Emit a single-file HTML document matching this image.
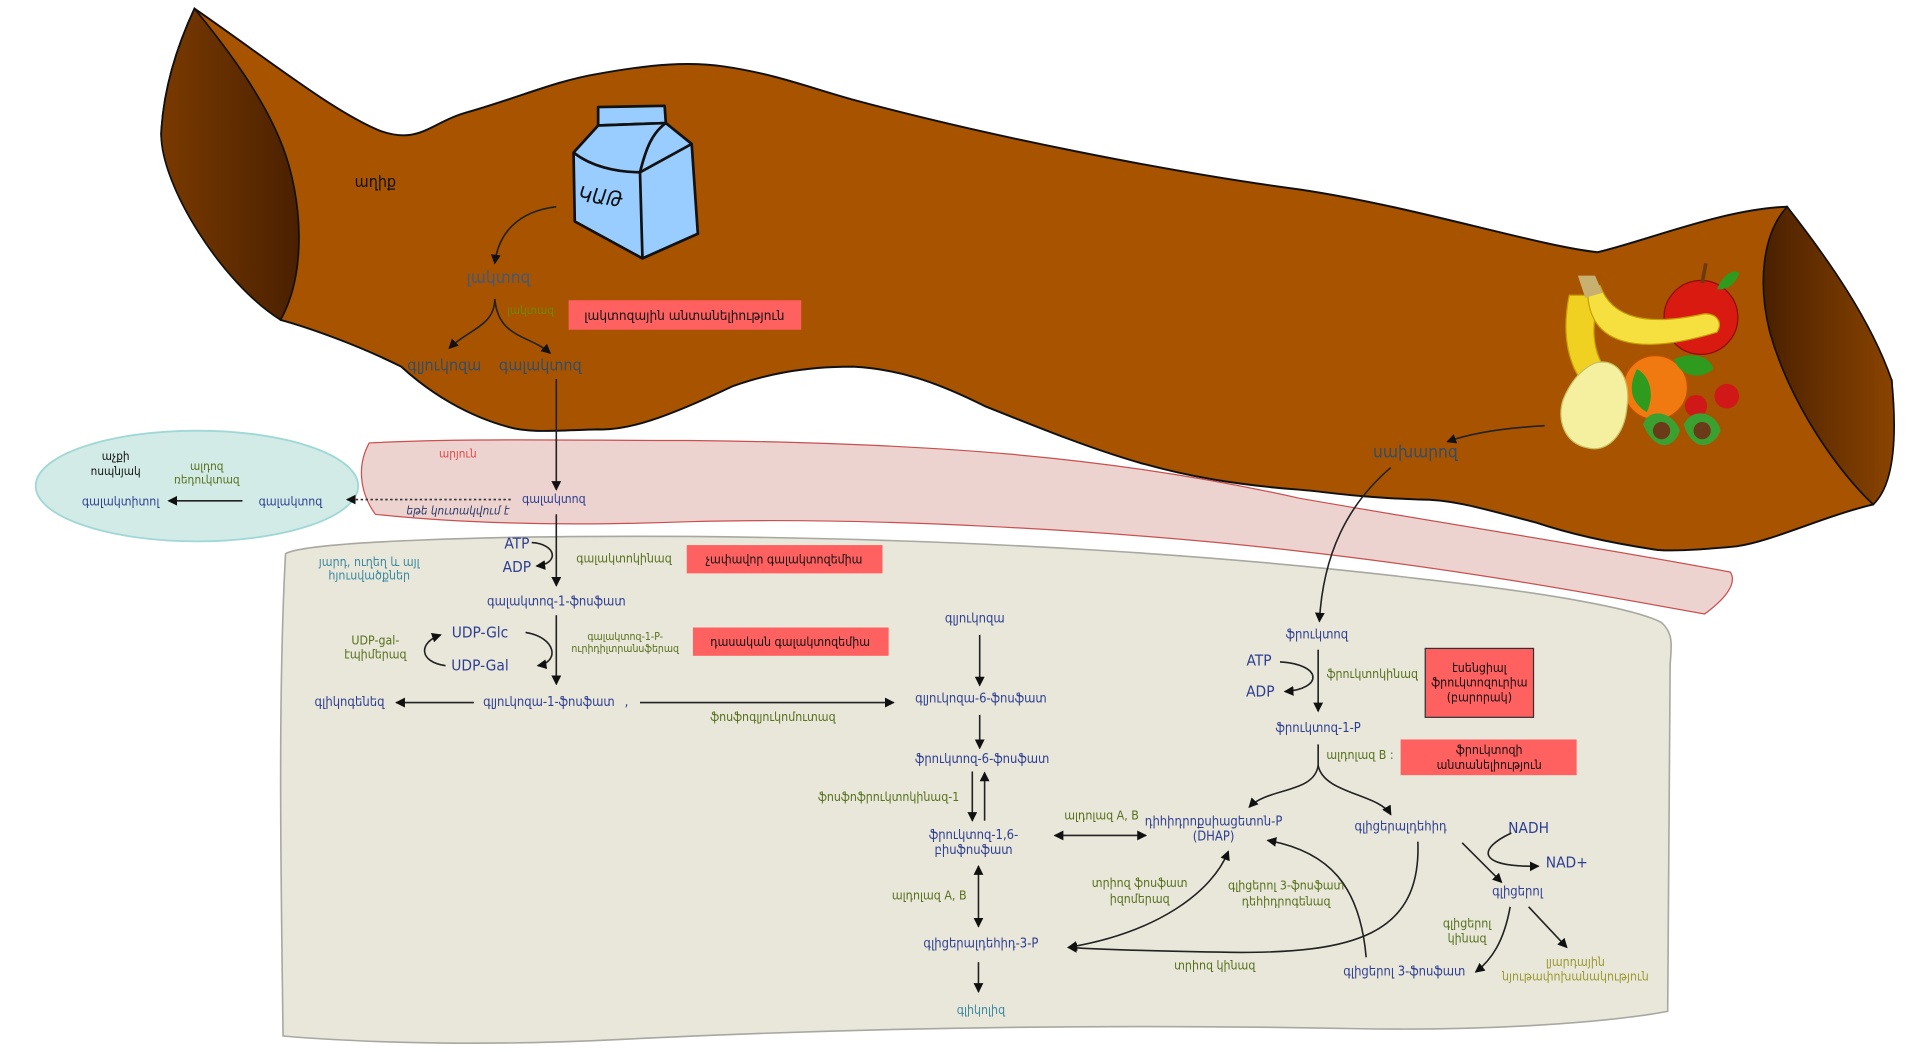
<!DOCTYPE html>
<html><head><meta charset="utf-8"><style>
html,body{margin:0;padding:0;background:#fff;}
svg{display:block;}
text{font-family:"DejaVu Sans Condensed","DejaVu Sans","Liberation Sans",sans-serif;}
.b{fill:#2e3f92;font-size:10.5px;}
.g{fill:#56701c;font-size:10px;}
.t{fill:#3a8aa0;font-size:10px;}
.k{fill:#111;font-size:10px;}
.bb{fill:#2e3f92;font-size:12.5px;}
.ln{stroke:#222;stroke-width:1.3;fill:none;}
</style></head><body>
<svg width="1920" height="1052" viewBox="0 0 1560 855" preserveAspectRatio="none" xmlns="http://www.w3.org/2000/svg">
<defs>
<marker id="a" markerWidth="8" markerHeight="8" refX="7" refY="4" orient="auto" markerUnits="userSpaceOnUse"><path d="M0,0 L8,4 L0,8 z" fill="#111"/></marker>
<marker id="as" markerWidth="8" markerHeight="8" refX="1" refY="4" orient="auto" markerUnits="userSpaceOnUse"><path d="M8,0 L0,4 L8,8 z" fill="#111"/></marker>
<linearGradient id="dl" x1="0" x2="1"><stop offset="0" stop-color="#7a3a00"/><stop offset="1" stop-color="#4a2000"/></linearGradient>
<linearGradient id="dr" x1="0" x2="1"><stop offset="0" stop-color="#4a2000"/><stop offset="1" stop-color="#8a4400"/></linearGradient>
</defs>

<!-- intestine -->
<path d="M158,7 C220,50 270,90 308,106 C340,118 350,100 377,92 C420,80 450,66 486,60 C530,52 560,50 588,54 C630,60 660,72 693,81 C800,110 950,140 1056,154 C1150,168 1250,200 1298,205 C1340,195 1400,170 1452,168 L1537,309 C1540,360 1530,395 1522,410 C1480,420 1440,440 1411,444 C1380,447 1360,448 1347,447 C1300,440 1270,432 1249,425 C1200,412 1180,406 1153,406 C1100,404 1080,400 1056,398 C950,390 900,370 800,330 C760,310 730,300 693,298 C650,298 620,305 595,314 C540,340 510,350 486,349 C450,350 430,352 413,347 C380,338 350,320 326,298 C290,280 250,266 228,260 C190,220 130,140 131,108 C133,70 145,35 158,7 Z" fill="#a85300" stroke="#111" stroke-width="1.6"/>
<path d="M158,7 C145,35 133,70 131,108 C130,150 180,230 228,260 C250,220 245,160 230,120 C215,80 185,40 158,7 Z" fill="url(#dl)" stroke="#111" stroke-width="1.4"/>
<path d="M1452,168 C1432,190 1428,230 1438,270 C1455,330 1495,385 1522,410 C1538,395 1542,360 1537,309 C1520,260 1485,210 1452,168 Z" fill="url(#dr)" stroke="#111" stroke-width="1.4"/>
<text x="305" y="152" class="k" style="font-size:13px" text-anchor="middle">աղիք</text>

<!-- milk carton -->
<g stroke="#111" stroke-width="2.2" fill="#99ccff" stroke-linejoin="round">
<path d="M486,87 L540,86 L541,100 L486,102 Z"/>
<path d="M486,102 L541,100 L562,117 L567,190 L522,210 L467,180 L466,124 Z"/>
<path d="M466,124 C480,135 500,140 520,140 L562,117" fill="none"/>
<path d="M520,140 L522,210 M520,140 C525,120 530,108 541,100" fill="none"/>
</g>
<text x="470" y="166" style="font-size:17px" fill="#111" transform="rotate(8 490 160)" font-style="italic">ԿԱԹ</text>

<!-- fruit -->
<g>
<circle cx="1382" cy="258" r="30" fill="#d81a10" stroke="#8a0d05"/>
<path d="M1383,230 L1386,214" stroke="#6b3a10" stroke-width="3"/>
<path d="M1395,235 C1400,222 1410,218 1413,222 C1410,232 1402,236 1395,235Z" fill="#2e9a1e"/>
<path d="M1275,240 C1265,290 1285,320 1310,330 L1318,310 C1295,300 1290,270 1300,240 Z" fill="#f0d020" stroke="#c8a000"/>
<path d="M1290,236 C1290,280 1330,290 1395,270 C1400,262 1395,255 1385,255 C1340,265 1310,260 1300,232 Z" fill="#f5e040" stroke="#c8a000"/>
<path d="M1282,224 L1296,224 L1302,238 L1288,242 Z" fill="#c8b070"/>
<circle cx="1345" cy="315" r="26" fill="#f07a10" stroke="#c05000"/>
<path d="M1330,300 C1320,320 1330,330 1338,335 C1345,320 1340,305 1330,300Z" fill="#2e9a1e"/>
<path d="M1360,292 C1375,285 1390,290 1392,300 C1380,310 1365,305 1360,292Z" fill="#2e9a1e"/>
<circle cx="1378" cy="330" r="9" fill="#d01818"/><circle cx="1403" cy="322" r="10" fill="#d01818"/>
<path d="M1296,295 C1316,290 1325,310 1322,330 C1320,355 1305,368 1290,364 C1270,360 1265,340 1270,325 C1276,310 1285,300 1296,295Z" fill="#f4f0a0" stroke="#c8c060"/>
<path d="M1335,345 C1340,330 1360,335 1365,350 C1360,365 1345,368 1335,345Z" fill="#3aa030"/><circle cx="1350" cy="350" r="7" fill="#6b3a18"/>
<path d="M1368,345 C1375,330 1395,335 1398,350 C1392,365 1375,368 1368,345Z" fill="#3aa030"/><circle cx="1383" cy="350" r="7" fill="#6b3a18"/>
</g>
<text x="1150" y="372" style="font-size:14px" fill="#2e4e6e" text-anchor="middle">սախարոզ</text>
<path class="ln" d="M1255,346 C1220,348 1195,352 1176,359" marker-end="url(#a)"/>

<!-- blood band -->
<path d="M300,360 C380,356 460,358 560,358 C750,360 900,370 1056,405 C1200,430 1300,445 1406,465 C1412,475 1400,488 1385,499 C1280,480 1180,462 1056,448 C900,430 700,420 560,424 C450,428 370,425 305,418 C292,400 290,378 300,360 Z" fill="#ecd3cf" stroke="#c85050" stroke-width="1"/>
<text x="372" y="372" style="font-size:9.5px" fill="#e04848" text-anchor="middle">արյուն</text>

<!-- beige cell -->
<path d="M232,450 C250,440 400,435 560,436 C800,438 1000,452 1150,470 C1260,482 1330,495 1350,506 C1360,515 1358,525 1357,540 L1355,822 C1300,832 1200,838 1100,836 C900,832 700,835 500,845 C400,850 300,848 230,842 C228,700 226,560 232,450 Z" fill="#e9e6da" stroke="#a8a8a0" stroke-width="1.3"/>

<path class="ln" d="M1130,380 C1095,410 1075,450 1072,505" marker-end="url(#a)"/>

<!-- teal ellipse -->
<ellipse cx="160" cy="395" rx="131" ry="45" fill="#d3ebe6" stroke="#9fd8d6" stroke-width="1.5"/>
<text x="94" y="374" class="k" style="font-size:9.5px" text-anchor="middle">աչքի</text>
<text x="94" y="386" class="k" style="font-size:9.5px" text-anchor="middle">ոսպնյակ</text>
<text x="168" y="382" class="g" style="font-size:9.5px" text-anchor="middle">ալդոզ</text>
<text x="168" y="393" class="g" style="font-size:9.5px" text-anchor="middle">ռեդուկտազ</text>
<text x="98" y="411" class="b" style="font-size:10px" text-anchor="middle">գալակտիտոլ</text>
<text x="236" y="411" class="b" style="font-size:10px" text-anchor="middle">գալակտոզ</text>
<path class="ln" d="M197,407 L137,407" marker-end="url(#a)"/>
<path d="M415,406 L282,406" stroke="#333" stroke-width="1.3" stroke-dasharray="2,2" fill="none" marker-end="url(#a)"/>
<text x="450" y="409" class="b" style="font-size:10px" text-anchor="middle">գալակտոզ</text>
<text x="372" y="418" style="font-size:9.5px" fill="#2a3a6a" font-style="italic" text-anchor="middle">եթե կուտակվում է</text>

<!-- lactose -->
<path class="ln" d="M452,168 C420,172 405,190 402,214" marker-end="url(#a)"/>
<text x="405" y="230" style="font-size:14px" fill="#3d5a80" text-anchor="middle">լակտոզ</text>
<path class="ln" d="M402,243 C402,265 380,268 365,283" marker-end="url(#a)"/>
<path class="ln" d="M402,243 C405,275 430,272 447,287" marker-end="url(#a)"/>
<text x="431" y="255" fill="#6a8a10" style="font-size:9.5px" text-anchor="middle">լակտազ</text>
<rect x="462" y="244" width="189" height="24" fill="#ff6060"/>
<text x="556" y="260" class="k" style="font-size:11px" text-anchor="middle">լակտոզային անտանելիություն</text>
<text x="361" y="301" style="font-size:13px" fill="#2e4e6e" text-anchor="middle">գլյուկոզա</text>
<text x="439" y="301" style="font-size:13px" fill="#2e4e6e" text-anchor="middle">գալակտոզ</text>
<path class="ln" d="M452,308 L452,398" marker-end="url(#a)"/>

<!-- galactose pathway -->
<path class="ln" d="M452,418 L452,476" marker-end="url(#a)"/>
<text x="420" y="446" class="bb" text-anchor="middle">ATP</text>
<text x="420" y="465" class="bb" text-anchor="middle">ADP</text>
<path class="ln" d="M432,441 C452,442 455,458 436,460" marker-end="url(#a)"/>
<text x="507" y="457" class="g" text-anchor="middle">գալակտոկինազ</text>
<rect x="558" y="443" width="159" height="23" fill="#ff6060"/>
<text x="637" y="458" class="k" text-anchor="middle">չափավոր գալակտոզեմիա</text>
<text x="300" y="460" class="t" text-anchor="middle">յարդ, ուղեղ և այլ</text>
<text x="300" y="471" class="t" text-anchor="middle">հյուսվածքներ</text>
<text x="452" y="492" class="b" text-anchor="middle">գալակտոզ-1-ֆոսֆատ</text>
<path class="ln" d="M452,500 L452,556" marker-end="url(#a)"/>
<text x="390" y="518" class="bb" text-anchor="middle">UDP-Glc</text>
<text x="390" y="545" class="bb" text-anchor="middle">UDP-Gal</text>
<path class="ln" d="M427,514 C452,518 455,538 437,541" marker-end="url(#a)"/>
<path class="ln" d="M362,541 C340,538 340,522 358,516" marker-end="url(#a)"/>
<text x="305" y="524" class="g" text-anchor="middle">UDP-gal-</text>
<text x="305" y="535" class="g" text-anchor="middle">էպիմերազ</text>
<text x="508" y="520" class="g" style="font-size:8.5px" text-anchor="middle">գալակտոզ-1-P-</text>
<text x="508" y="530" class="g" style="font-size:8.5px" text-anchor="middle">ուրիդիլտրանսֆերազ</text>
<rect x="563" y="510" width="159" height="23" fill="#ff6060"/>
<text x="642" y="525" class="k" text-anchor="middle">դասական գալակտոզեմիա</text>
<text x="446" y="574" class="b" text-anchor="middle">գլյուկոզա-1-ֆոսֆատ</text>
<text x="509" y="574" class="b" text-anchor="middle">,</text>
<path class="ln" d="M385,571 L322,571" marker-end="url(#a)"/>
<text x="284" y="574" class="b" text-anchor="middle">գլիկոգենեզ</text>
<path class="ln" d="M520,571 L726,571" marker-end="url(#a)"/>
<text x="628" y="586" class="g" text-anchor="middle">ֆոսֆոգլյուկոմուտազ</text>

<!-- glycolysis column -->
<text x="792" y="506" class="b" text-anchor="middle">գլյուկոզա</text>
<path class="ln" d="M796,516 L796,557" marker-end="url(#a)"/>
<text x="797" y="571" class="b" text-anchor="middle">գլյուկոզա-6-ֆոսֆատ</text>
<path class="ln" d="M796,581 L796,608" marker-end="url(#a)"/>
<text x="798" y="620" class="b" text-anchor="middle">ֆրուկտոզ-6-ֆոսֆատ</text>
<path class="ln" d="M790,627 L790,667" marker-end="url(#a)"/>
<path class="ln" d="M800,667 L800,628" marker-end="url(#a)"/>
<text x="722" y="651" class="g" text-anchor="middle">ֆոսֆոֆրուկտոկինազ-1</text>
<text x="791" y="682" class="b" text-anchor="middle">ֆրուկտոզ-1,6-</text>
<text x="791" y="694" class="b" text-anchor="middle">բիսֆոսֆատ</text>
<path class="ln" d="M857,679 L931,679" marker-end="url(#a)" marker-start="url(#as)"/>
<text x="895" y="666" class="g" text-anchor="middle">ալդոլազ A, B</text>
<path class="ln" d="M795,704 L795,753" marker-end="url(#a)" marker-start="url(#as)"/>
<text x="755" y="731" class="g" text-anchor="middle">ալդոլազ A, B</text>
<text x="797" y="770" class="b" text-anchor="middle">գլիցերալդեհիդ-3-P</text>
<path class="ln" d="M795,782 L795,806" marker-end="url(#a)"/>
<text x="797" y="824" class="t" text-anchor="middle">գլիկոլիզ</text>

<!-- DHAP -->
<text x="986" y="671" class="b" text-anchor="middle">դիհիդրոքսիացետոն-P</text>
<text x="986" y="683" class="b" text-anchor="middle">(DHAP)</text>
<path class="ln" d="M868,770 C940,758 985,725 998,692" marker-end="url(#a)" marker-start="url(#as)"/>
<text x="926" y="721" class="g" text-anchor="middle">տրիոզ ֆոսֆատ</text>
<text x="926" y="734" class="g" text-anchor="middle">իզոմերազ</text>
<path class="ln" d="M1110,778 C1105,720 1080,692 1030,683" marker-end="url(#a)"/>
<text x="1045" y="723" class="g" text-anchor="middle">գլիցերոլ 3-ֆոսֆատ</text>
<text x="1045" y="736" class="g" text-anchor="middle">դեհիդրոգենազ</text>
<path class="ln" d="M1152,684 C1155,760 1100,775 1000,774 C940,773 900,772 868,770" marker-end="url(#a)"/>
<text x="987" y="788" class="g" text-anchor="middle">տրիոզ կինազ</text>

<!-- fructose -->
<text x="1070" y="519" class="b" text-anchor="middle">ֆրուկտոզ</text>
<path class="ln" d="M1071,528 L1071,578" marker-end="url(#a)"/>
<text x="1023" y="541" class="bb" text-anchor="middle">ATP</text>
<text x="1024" y="566" class="bb" text-anchor="middle">ADP</text>
<path class="ln" d="M1040,538 C1075,540 1075,560 1044,562" marker-end="url(#a)"/>
<text x="1115" y="551" class="g" text-anchor="middle">ֆրուկտոկինազ</text>
<rect x="1158" y="527" width="88" height="56" fill="#ff6060" stroke="#333" stroke-width="1"/>
<text x="1202" y="546" class="k" text-anchor="middle">էսենցիալ</text>
<text x="1202" y="558" class="k" text-anchor="middle">ֆրուկտոզուրիա</text>
<text x="1202" y="570" class="k" text-anchor="middle">(բարորակ)</text>
<text x="1071" y="595" class="b" text-anchor="middle">ֆրուկտոզ-1-P</text>
<text x="1105" y="617" class="g" text-anchor="middle">ալդոլազ B :</text>
<rect x="1138" y="601" width="143" height="29" fill="#ff6060"/>
<text x="1210" y="613" class="k" text-anchor="middle">ֆրուկտոզի</text>
<text x="1210" y="625" class="k" text-anchor="middle">անտանելիություն</text>
<path class="ln" d="M1071,605 L1071,622 C1068,645 1030,640 1015,656" marker-end="url(#a)"/>
<path class="ln" d="M1071,622 C1075,645 1120,645 1130,662" marker-end="url(#a)"/>
<text x="1138" y="675" class="b" text-anchor="middle">գլիցերալդեհիդ</text>
<text x="1242" y="677" class="bb" text-anchor="middle">NADH</text>
<text x="1273" y="705" class="bb" text-anchor="middle">NAD+</text>
<path class="ln" d="M1228,677 C1200,690 1200,705 1250,704" marker-end="url(#a)"/>
<path class="ln" d="M1188,685 L1220,717" marker-end="url(#a)"/>
<text x="1233" y="728" class="b" text-anchor="middle">գլիցերոլ</text>
<text x="1192" y="754" class="g" text-anchor="middle">գլիցերոլ</text>
<text x="1192" y="766" class="g" text-anchor="middle">կինազ</text>
<path class="ln" d="M1227,737 C1222,765 1212,780 1199,790" marker-end="url(#a)"/>
<path class="ln" d="M1242,737 L1273,770" marker-end="url(#a)"/>
<text x="1280" y="785" style="font-size:10px" fill="#9a9a30" text-anchor="middle">լյարդային</text>
<text x="1280" y="797" style="font-size:10px" fill="#9a9a30" text-anchor="middle">նյութափոխանակություն</text>
<text x="1141" y="793" class="b" text-anchor="middle">գլիցերոլ 3-ֆոսֆատ</text>
</svg>
</body></html>
